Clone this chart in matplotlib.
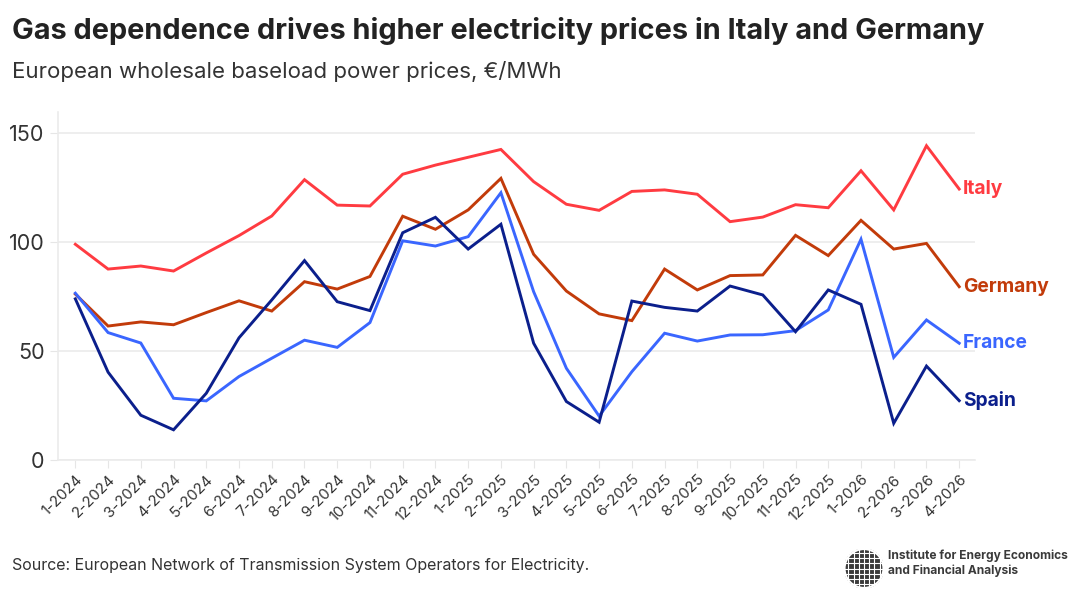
import matplotlib.pyplot as plt
import numpy as np
from matplotlib.patches import Circle

plt.rcParams['font.family'] = ['Inter', 'DejaVu Sans']

months = ['1-2024', '2-2024', '3-2024', '4-2024', '5-2024', '6-2024', '7-2024',
          '8-2024', '9-2024', '10-2024', '11-2024', '12-2024', '1-2025', '2-2025',
          '3-2025', '4-2025', '5-2025', '6-2025', '7-2025', '8-2025', '9-2025',
          '10-2025', '11-2025', '12-2025', '1-2026', '2-2026', '3-2026', '4-2026']

italy = [99.0, 87.6, 89.0, 86.7, 95.0, 103.0, 112.0, 128.7, 117.0, 116.6, 131.2,
         135.4, 139.0, 142.6, 127.8, 117.4, 114.6, 123.3, 124.0, 122.0, 109.4,
         111.5, 117.2, 115.8, 132.8, 114.8, 144.3, 124.4]
germany = [76.1, 61.4, 63.3, 62.0, 67.6, 73.0, 68.3, 81.8, 78.4, 84.2, 111.9,
           105.9, 114.8, 129.3, 94.4, 77.5, 67.0, 63.9, 87.6, 78.0, 84.6, 84.9,
           103.1, 93.8, 110.0, 96.8, 99.4, 79.5]
france = [76.5, 58.4, 53.6, 28.2, 27.0, 38.2, 46.6, 54.9, 51.6, 63.0, 100.6, 98.2,
          102.5, 122.7, 77.2, 42.0, 20.0, 40.4, 58.1, 54.5, 57.3, 57.4, 59.3, 68.8,
          101.3, 47.0, 64.2, 53.5]
spain = [73.9, 40.2, 20.4, 13.7, 30.5, 56.0, 73.4, 91.5, 72.6, 68.5, 104.3, 111.4,
         96.8, 108.2, 53.5, 26.7, 17.2, 72.9, 70.0, 68.3, 79.8, 75.7, 58.8, 78.0,
         71.4, 16.7, 43.0, 27.1]

series = [('Italy', italy, '#ff3b41'),
          ('Germany', germany, '#c23b0a'),
          ('France', france, '#3a66ff'),
          ('Spain', spain, '#0b1f8c')]

fig = plt.figure(figsize=(10.8, 6.0), dpi=100)
ax = fig.add_axes([0.054, 0.234, 0.849, 0.58])

x = np.arange(len(months))
for name, vals, col in series:
    ax.plot(x, vals, color=col, linewidth=2.1, solid_joinstyle='miter')
    ax.text(x[-1] + 0.12, vals[-1], name, color=col, fontsize=13.8,
            fontweight='bold', va='center', ha='left')

ax.set_xlim(-0.52, 27.49)
ax.set_ylim(0, 160)
ax.set_yticks([0, 50, 100, 150])
ax.set_xticks(x)
ax.set_xticklabels(months, rotation=45, ha='right', rotation_mode='anchor',
                   fontsize=10.8, color='#333333')
ax.tick_params(axis='y', labelsize=15.5, colors='#e6e6e6', labelcolor='#333333',
               length=6, pad=4)
ax.tick_params(axis='x', colors='#e6e6e6', labelcolor='#333333', length=6, pad=3)
ax.grid(axis='y', color='#ebebeb', linewidth=1.2)
ax.set_axisbelow(True)
for side in ['top', 'right']:
    ax.spines[side].set_visible(False)
ax.spines['left'].set_color('#ebebeb')
ax.spines['bottom'].set_color('#ebebeb')
ax.spines['left'].set_linewidth(1.2)
ax.spines['bottom'].set_linewidth(1.2)

fig.text(0.011, 0.948, 'Gas dependence drives higher electricity prices in Italy and Germany',
         fontsize=20.8, fontweight='bold', color='#222222', va='center')
fig.text(0.011, 0.88, 'European wholesale baseload power prices, €/MWh',
         fontsize=16, color='#333333', va='center')
fig.text(0.011, 0.057, 'Source: European Network of Transmission System Operators for Electricity.',
         fontsize=11.5, color='#333333', va='center')

# logo
lax = fig.add_axes([0.782, 0.02, 0.036, 0.065])
lax.set_xlim(-1, 1)
lax.set_ylim(-1, 1)
lax.set_aspect('equal')
lax.axis('off')
lax.add_patch(Circle((0, 0), 1, color='#3a3a3a'))
for k in np.linspace(-0.8, 0.8, 7):
    lax.plot([-1, 1], [k, k], color='white', linewidth=0.8)
    lax.plot([k, k], [-1, 1], color='white', linewidth=0.8)
lax.add_patch(Circle((0, 0), 1, fill=False, edgecolor='white', linewidth=1.5))
fig.text(0.822, 0.073, 'Institute for Energy Economics', fontsize=8.6,
         fontweight='bold', color='#3a3a3a', va='center')
fig.text(0.822, 0.048, 'and Financial Analysis', fontsize=8.6,
         fontweight='bold', color='#3a3a3a', va='center')

fig.savefig('out.png', dpi=100)
